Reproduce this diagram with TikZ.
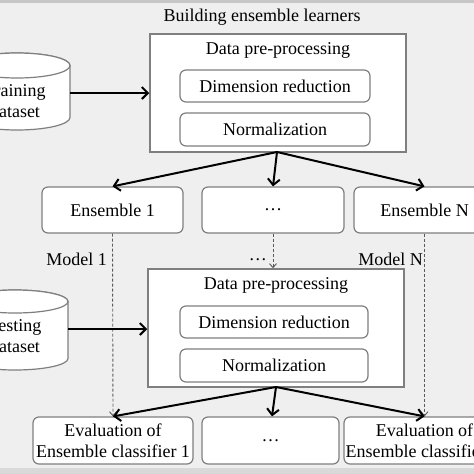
\documentclass[tikz,border=0pt]{standalone}
\usepackage{fontspec}
\setmainfont{Liberation Serif}
\usetikzlibrary{arrows.meta}
\definecolor{bg}{HTML}{EFEFEF}
\definecolor{edge}{HTML}{7F7F7F}
\definecolor{dash}{HTML}{5A5A5A}
\tikzset{
  txt/.style={font=\fontsize{18}{21}\selectfont, inner sep=0pt, align=center},
  outerbox/.style={draw=edge, line width=1.5pt, fill=white, inner sep=0pt},
  roundbox/.style={draw=edge, line width=1.2pt, fill=white, rounded corners=6pt, inner sep=0pt, font=\fontsize{18}{21}\selectfont, align=center},
  cyl/.style={draw=edge, line width=1.2pt, fill=white},
  flow/.style={line width=2pt, -{Straight Barb[length=6pt,width=12pt,line width=2pt]}},
  model/.style={draw=dash, line width=0.9pt, dash pattern=on 3pt off 2pt, -{Straight Barb[length=4pt,width=7pt,line width=0.9pt]}}
}
\begin{document}
\begin{tikzpicture}[x=1pt,y=-1pt]
\useasboundingbox (0,0) rectangle (474,474);
\clip (0,0) rectangle (474,474);
\fill[bg] (0,0) rectangle (474,474);
\fill[gray!45] (0,0) rectangle (474,2.5);
\fill[gray!30] (0,468) rectangle (474,474);

% title
\node[txt] (ttl) at (262,17) {Building ensemble learners};

% training cylinder
\path[cyl] (-36,65.5) -- (-36,117.5) arc[start angle=180,end angle=0,x radius=53,y radius=12.5] -- (70,65.5) arc[start angle=0,end angle=-180,x radius=53,y radius=12.5] -- cycle;
\draw[cyl] (17,65.5) ellipse[x radius=53,y radius=12.5];
\node[txt] (train) at (15,101) {Training\\dataset};
\coordinate (trainR) at (70,93);

% testing cylinder
\path[cyl] (-38,301.5) -- (-38,358.5) arc[start angle=180,end angle=0,x radius=53,y radius=11.5] -- (68,301.5) arc[start angle=0,end angle=-180,x radius=53,y radius=11.5] -- cycle;
\draw[cyl] (15,301.5) ellipse[x radius=53,y radius=11.5];
\node[txt] (test) at (15,336) {Testing\\dataset};
\coordinate (testR) at (68,329);

% first pre-processing block
\node[outerbox, minimum width=256pt, minimum height=118pt] (pp1) at (278,93) {};
\node[txt] (pp1t) at (278,50) {Data pre-processing};
\node[roundbox, minimum width=190pt, minimum height=32pt] (dr1) at (275,86) {Dimension reduction};
\node[roundbox, minimum width=190pt, minimum height=33pt] (nm1) at (275,129.5) {Normalization};
\coordinate (s1) at (277,152);

% ensembles
\node[roundbox, minimum width=141pt, minimum height=46pt] (e1) at (112.5,210) {Ensemble 1};
\node[roundbox, minimum width=142pt, minimum height=46pt] (em) at (273,210) {\ldots};
\node[roundbox, minimum width=141pt, minimum height=46pt] (eN) at (424.5,210) {Ensemble N};

% second pre-processing block
\node[outerbox, minimum width=256pt, minimum height=118pt] (pp2) at (276,328) {};
\node[txt] (pp2t) at (276,285) {Data pre-processing};
\node[roundbox, minimum width=188pt, minimum height=32pt] (dr2) at (274,322) {Dimension reduction};
\node[roundbox, minimum width=188pt, minimum height=33pt] (nm2) at (274,365.5) {Normalization};
\coordinate (s2) at (276,387);

% evaluations
\node[roundbox, minimum width=160pt, minimum height=47pt] (v1) at (113,440.5) {Evaluation of\\Ensemble classifier 1};
\node[roundbox, minimum width=137pt, minimum height=47pt] (vm) at (270.5,440.5) {\ldots};
\node[roundbox, minimum width=161pt, minimum height=47pt] (vN) at (424.5,440.5) {Evaluation of\\Ensemble classifier N};

% model labels
\node[txt, anchor=east] (m1) at (107,259) {Model 1};
\node[txt, anchor=east] (mm) at (267,260) {\ldots};
\node[txt, anchor=east] (mN) at (423,259) {Model N};

% dashed model flows
\draw[model] (e1.south) -- (v1.north);
\draw[model] (em.south) -- (em.south |- pp2.north);
\draw[model] (eN.south) -- (vN.north);

% solid flows
\draw[flow] (trainR) -- (pp1.west |- trainR);
\draw[flow] (testR) -- (pp2.west |- testR);
\draw[flow] (s1) -- (e1.north);
\draw[flow] (s1) -- (em.north);
\draw[flow] (s1) -- (eN.north);
\draw[flow] (s2) -- (v1.north);
\draw[flow] (s2) -- (vm.north -| 272,0);
\draw[flow] (s2) -- (vN.north);
\end{tikzpicture}
\end{document}
